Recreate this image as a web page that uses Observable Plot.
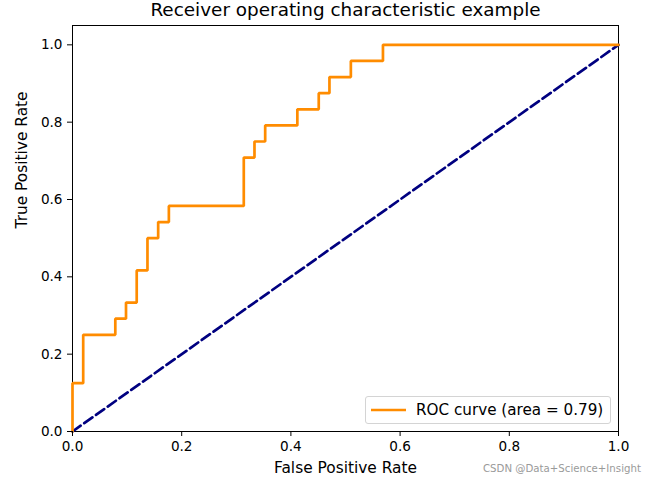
<!DOCTYPE html>
<html>
<head>
<meta charset="utf-8">
<script src="https://cdn.jsdelivr.net/npm/d3@7"></script>
<script src="https://cdn.jsdelivr.net/npm/@observablehq/plot@0.6"></script>
<style>
  html, body { margin: 0; padding: 0; background: #fff; }
  #wrap { position: relative; width: 655px; height: 487px; font-family: "DejaVu Sans", sans-serif; }
  #legend { position: absolute; left: 365px; top: 396px; width: 246px; height: 28px;
    border: 1px solid #d4d4d4; border-radius: 3px; background: rgba(255,255,255,0.8);
    display: flex; align-items: center; font-size: 15.2px; color: #000; box-sizing: border-box; white-space: nowrap; }
  #legend svg { margin-left: 5px; margin-right: 10px; flex: none; }
  #wm { position: absolute; left: 483px; top: 463px; font-size: 10.2px; color: #9a9a9a; white-space: nowrap; }
</style>
</head>
<body>
<div id="wrap">
  <div id="chart"></div>
  <div id="legend"><svg width="35" height="6"><line x1="0" y1="3" x2="35" y2="3" stroke="darkorange" stroke-width="2.7"/></svg><span>ROC curve (area = 0.79)</span></div>
  <div id="wm">CSDN @Data+Science+Insight</div>
</div>
<script>
const fpr = [0, 0, 0.0196, 0.0196, 0.0784, 0.0784, 0.098, 0.098, 0.1176, 0.1176, 0.1373, 0.1373, 0.1569, 0.1569, 0.1765, 0.1765, 0.3137, 0.3137, 0.3333, 0.3333, 0.3529, 0.3529, 0.4118, 0.4118, 0.451, 0.451, 0.4706, 0.4706, 0.5098, 0.5098, 0.5686, 0.5686, 1];
const tpr = [0, 0.125, 0.125, 0.25, 0.25, 0.2917, 0.2917, 0.3333, 0.3333, 0.4167, 0.4167, 0.5, 0.5, 0.5417, 0.5417, 0.5833, 0.5833, 0.7083, 0.7083, 0.75, 0.75, 0.7917, 0.7917, 0.8333, 0.8333, 0.875, 0.875, 0.9167, 0.9167, 0.9583, 0.9583, 1, 1];
const diagX = [0, 1];
const diagY = [0, 1];
const xTicks = [0, 0.2, 0.4, 0.6, 0.8, 1.0];
const yTicks = [0, 0.2, 0.4, 0.6, 0.8, 1.0];

const roc = fpr.map((f, i) => ({x: f, y: tpr[i]}));
const diag = diagX.map((d, i) => ({x: d, y: diagY[i]}));

const chart = Plot.plot({
  width: 655,
  height: 487,
  marginLeft: 72,
  marginRight: 37,
  marginTop: 25,
  marginBottom: 56,
  style: { fontFamily: "DejaVu Sans, sans-serif", fontSize: "13.6px", color: "#000", background: "#fff" },
  x: { domain: [0, 1] },
  y: { domain: [0, 1.05] },
  marks: [
    Plot.frame({ stroke: "#000", strokeWidth: 1 }),
    Plot.line(diag, { x: "x", y: "y", stroke: "navy", strokeWidth: 2.7, strokeDasharray: "10,4.4" }),
    Plot.line(roc, { x: "x", y: "y", stroke: "darkorange", strokeWidth: 2.7, strokeLinejoin: "miter" }),
    Plot.axisX({ ticks: xTicks, tickFormat: d3.format(".1f"), tickSize: 5, tickPadding: 5, label: null, fontSize: 13.6 }),
    Plot.axisY({ ticks: yTicks, tickFormat: d3.format(".1f"), tickSize: 5, tickPadding: 5, label: null, fontSize: 13.6 }),
    Plot.text(["Receiver operating characteristic example"], { frameAnchor: "top", lineAnchor: "middle", dy: -15, fontSize: 18.4, text: d => d }),
    Plot.text(["False Positive Rate"], { frameAnchor: "bottom", lineAnchor: "middle", dy: 37, fontSize: 15.4, text: d => d }),
    Plot.text(["True Positive Rate"], { frameAnchor: "left", dx: -50, rotate: -90, fontSize: 15.4, text: d => d })
  ]
});
document.getElementById("chart").appendChild(chart);
</script>
</body>
</html>
